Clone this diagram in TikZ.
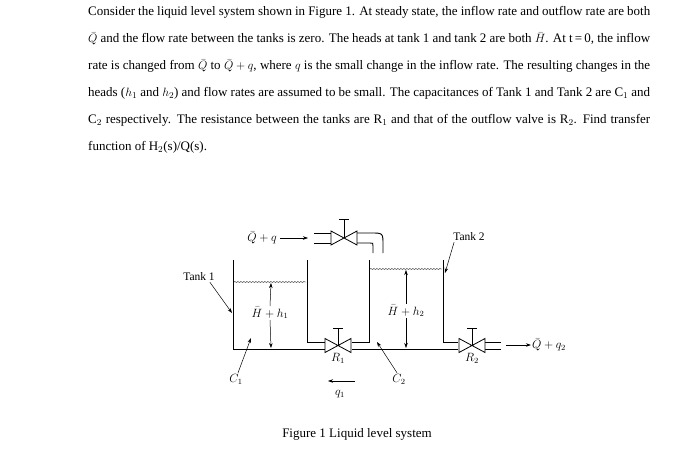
\documentclass[tikz,border=0pt]{standalone}
\usepackage{fontspec}
\setmainfont{Liberation Serif}
\usetikzlibrary{arrows.meta,decorations.pathmorphing}
\begin{document}
\begin{tikzpicture}[x=1pt,y=-1pt,
  wall/.style={line width=0.9pt},
  pipe/.style={line width=0.9pt},
  lbl/.style={font=\fontsize{11.5}{13}\selectfont, inner sep=1pt},
  arr/.style={-{Stealth[length=5pt,width=3.5pt]}, line width=0.5pt},
  water/.style={line width=0.4pt, decorate, decoration={snake, amplitude=0.4pt, segment length=3pt}}]
\useasboundingbox (0,0) rectangle (700,460);
\node[anchor=north west, text width=562pt, align=justify, inner sep=0pt,
  font=\fontsize{13.0}{27}\selectfont] (para) at (88,6) {Consider the liquid level system shown in Figure 1. At steady state, the inflow rate and outflow rate are both $\bar{Q}$ and the flow rate between the tanks is zero. The heads at tank 1 and tank 2 are both $\bar{H}$. At t\,=\,0, the inflow rate is changed from $\bar{Q}$ to $\bar{Q}+q$, where $q$ is the small change in the inflow rate. The resulting changes in the heads ($h_1$ and $h_2$) and flow rates are assumed to be small. The capacitances of Tank 1 and Tank 2 are C$_1$ and C$_2$ respectively. The resistance between the tanks are R$_1$ and that of the outflow valve is R$_2$. Find transfer function of H$_2$(s)/Q(s).\par};
% tank walls and pipes
\draw[wall] (233,260) -- (233,349) -- (325,349);
\draw[wall] (307,260) -- (307,342) -- (325,342);
\draw[wall] (352,342) -- (369,342) -- (369,260);
\draw[wall] (352,349) -- (458,349);
\draw[wall] (443,260) -- (443,342) -- (458,342);
\draw[pipe] (485,342) -- (501,342);
\draw[pipe] (485,349) -- (501,349);
% valves
\foreach \cx/\cy/\tp in {338/345.5/328, 472/345.5/328, 344/238/219}{
  \draw[line width=0.8pt,fill=white] (\cx-13,\cy-7) -- (\cx-13,\cy+7) -- (\cx+13,\cy-7) -- (\cx+13,\cy+7) -- cycle;
  \draw[line width=0.8pt] (\cx,\cy) -- (\cx,\tp) (\cx-5,\tp) -- (\cx+5,\tp);
}
% inlet pipe
\draw[pipe] (314,233) -- (331,233);
\draw[pipe] (314,243) -- (331,243);
\draw[pipe] (357,233) -- (371,233) .. controls (383,233) .. (383,245) -- (383,253);
\draw[pipe] (357,243) -- (370,243) .. controls (373,243) .. (373,246) -- (373,253);
% water
\draw[water] (234,282) -- (306,282);
\draw[water] (370,269) -- (442,269);
% labels
\node[lbl] (qin) at (262,238) {$\bar{Q}+q$};
\coordinate (qinE) at (308,238);
\draw[arr] (qin.east) ++(2,0) -- (qinE);
\node[lbl] (t2) at (469,237) {Tank 2};
\coordinate (t2p) at (445,273);
\draw[arr] (t2.south west) ++(2,0) -- (t2p);
\node[lbl] (t1) at (199,277) {Tank 1};
\coordinate (t1p) at (232,313);
\draw[arr] (t1.south east) ++(-6,0) -- (t1p);
\node[lbl,fill=white] (h1) at (270,313) {$\bar{H}+h_1$};
\coordinate (h1t) at (271,283); \coordinate (h1b) at (271,348);
\draw[arr] (h1.north) -- (h1t); \draw[arr] (h1.south) -- (h1b);
\node[lbl,fill=white] (h2) at (406,311) {$\bar{H}+h_2$};
\coordinate (h2t) at (406,270); \coordinate (h2b) at (406,348);
\draw[arr] (h2.north) -- (h2t); \draw[arr] (h2.south) -- (h2b);
\node[lbl] (c1) at (236,379) {$C_1$};
\coordinate (c1p) at (251,338);
\draw[arr] (c1.north) ++(2,0) -- (c1p);
\node[lbl] (c2) at (399,379) {$C_2$};
\coordinate (c2p) at (377,342);
\draw[arr] (c2.north) ++(-2,0) -- (c2p);
\node[lbl] (r1) at (338,358) {$R_1$};
\node[lbl] (r2) at (472,358) {$R_2$};
\coordinate (q1s) at (355,381); \coordinate (q1e) at (328,381);
\draw[arr] (q1s) -- (q1e);
\node[lbl] (q1) at (340,394) {$q_1$};
\node[lbl] (qout) at (549,345) {$\bar{Q}+q_2$};
\coordinate (qos) at (506,345);
\draw[arr] (qos) -- (qout.west);
\node[font=\fontsize{13}{14}\selectfont] (cap) at (357,434) {Figure 1 Liquid level system};
\end{tikzpicture}
\end{document}
